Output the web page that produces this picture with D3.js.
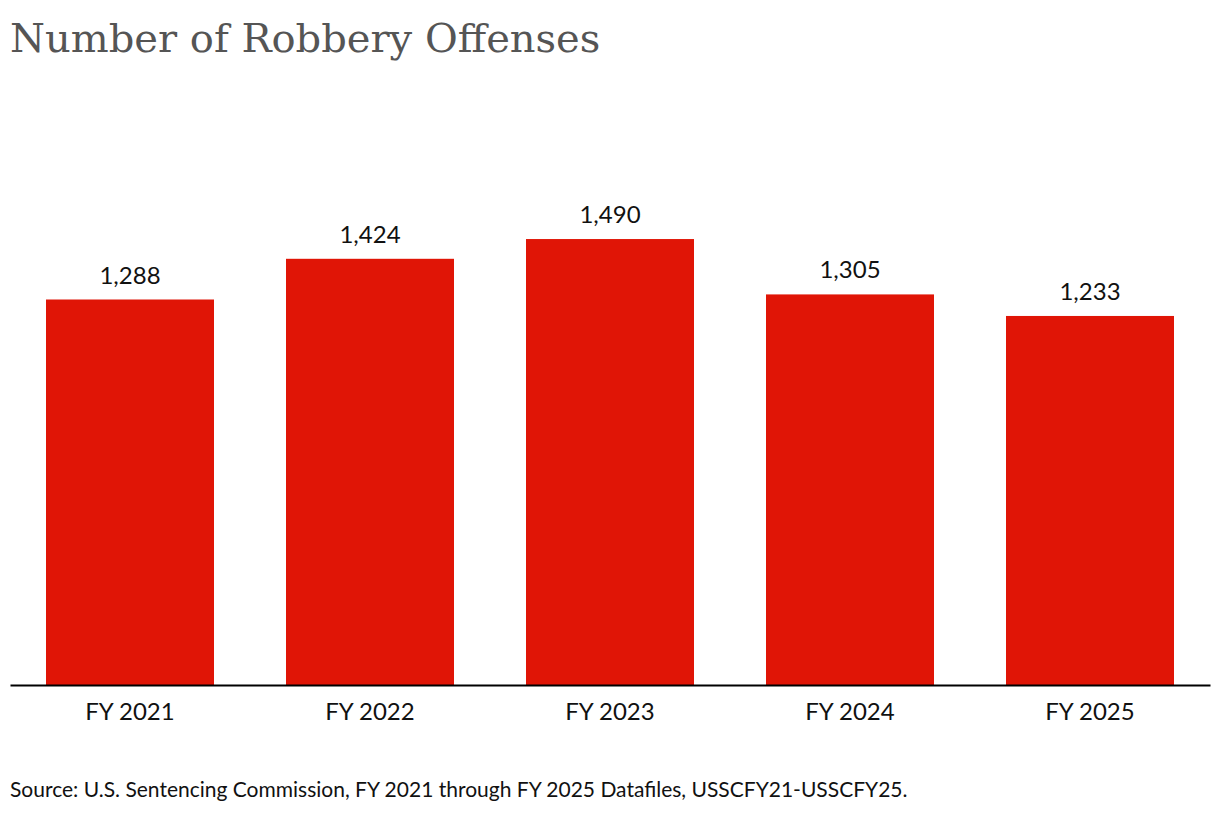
<!DOCTYPE html>
<html><head><meta charset="utf-8">
<script src="https://cdn.jsdelivr.net/npm/d3@7"></script>
<style>body{margin:0;background:#fff}</style>
</head><body>
<svg id="chart" width="1220" height="814"></svg>
<script>
var years = ["FY 2021", "FY 2022", "FY 2023", "FY 2024", "FY 2025"];
var offenses = [1288, 1424, 1490, 1305, 1233];

var svg = d3.select("#chart");
var baseY = 685;

var x = d3.scaleBand().domain(years).range([10, 1210]).paddingInner(0.3).paddingOuter(0.15);
var y = d3.scaleLinear().domain([0, 1600]).range([baseY, baseY - 1600 * 0.2993]);

svg.append("text")
  .attr("x", 10).attr("y", 52)
  .attr("font-family", "'DejaVu Serif', serif")
  .attr("font-size", 40).attr("fill", "#555")
  .text("Number of Robbery Offenses");

svg.selectAll("rect.bar").data(offenses).enter().append("rect")
  .attr("class", "bar")
  .attr("x", function(d, i) { return x(years[i]); })
  .attr("width", x.bandwidth())
  .attr("y", function(d) { return y(d); })
  .attr("height", function(d) { return baseY - y(d); })
  .attr("fill", "#e01506");

svg.selectAll("text.val").data(offenses).enter().append("text")
  .attr("class", "val")
  .attr("x", function(d, i) { return x(years[i]) + x.bandwidth() / 2; })
  .attr("y", function(d) { return y(d) - 16; })
  .attr("text-anchor", "middle")
  .attr("font-family", "Lato, sans-serif").attr("font-size", 24).attr("fill", "#111")
  .text(d3.format(","));

var axis = svg.append("g").attr("transform", "translate(0," + baseY + ")")
  .call(d3.axisBottom(x).tickSize(0).tickPadding(18));
axis.select(".domain").attr("stroke", "#000").attr("stroke-width", 2);
axis.selectAll("text").attr("font-family", "Lato, sans-serif").attr("font-size", 24).attr("fill", "#111");

svg.append("text")
  .attr("x", 10).attr("y", 797)
  .attr("font-family", "Lato, sans-serif").attr("font-size", 21).attr("fill", "#111")
  .text("Source: U.S. Sentencing Commission, FY 2021 through FY 2025 Datafiles, USSCFY21-USSCFY25.");
</script>
</body></html>
